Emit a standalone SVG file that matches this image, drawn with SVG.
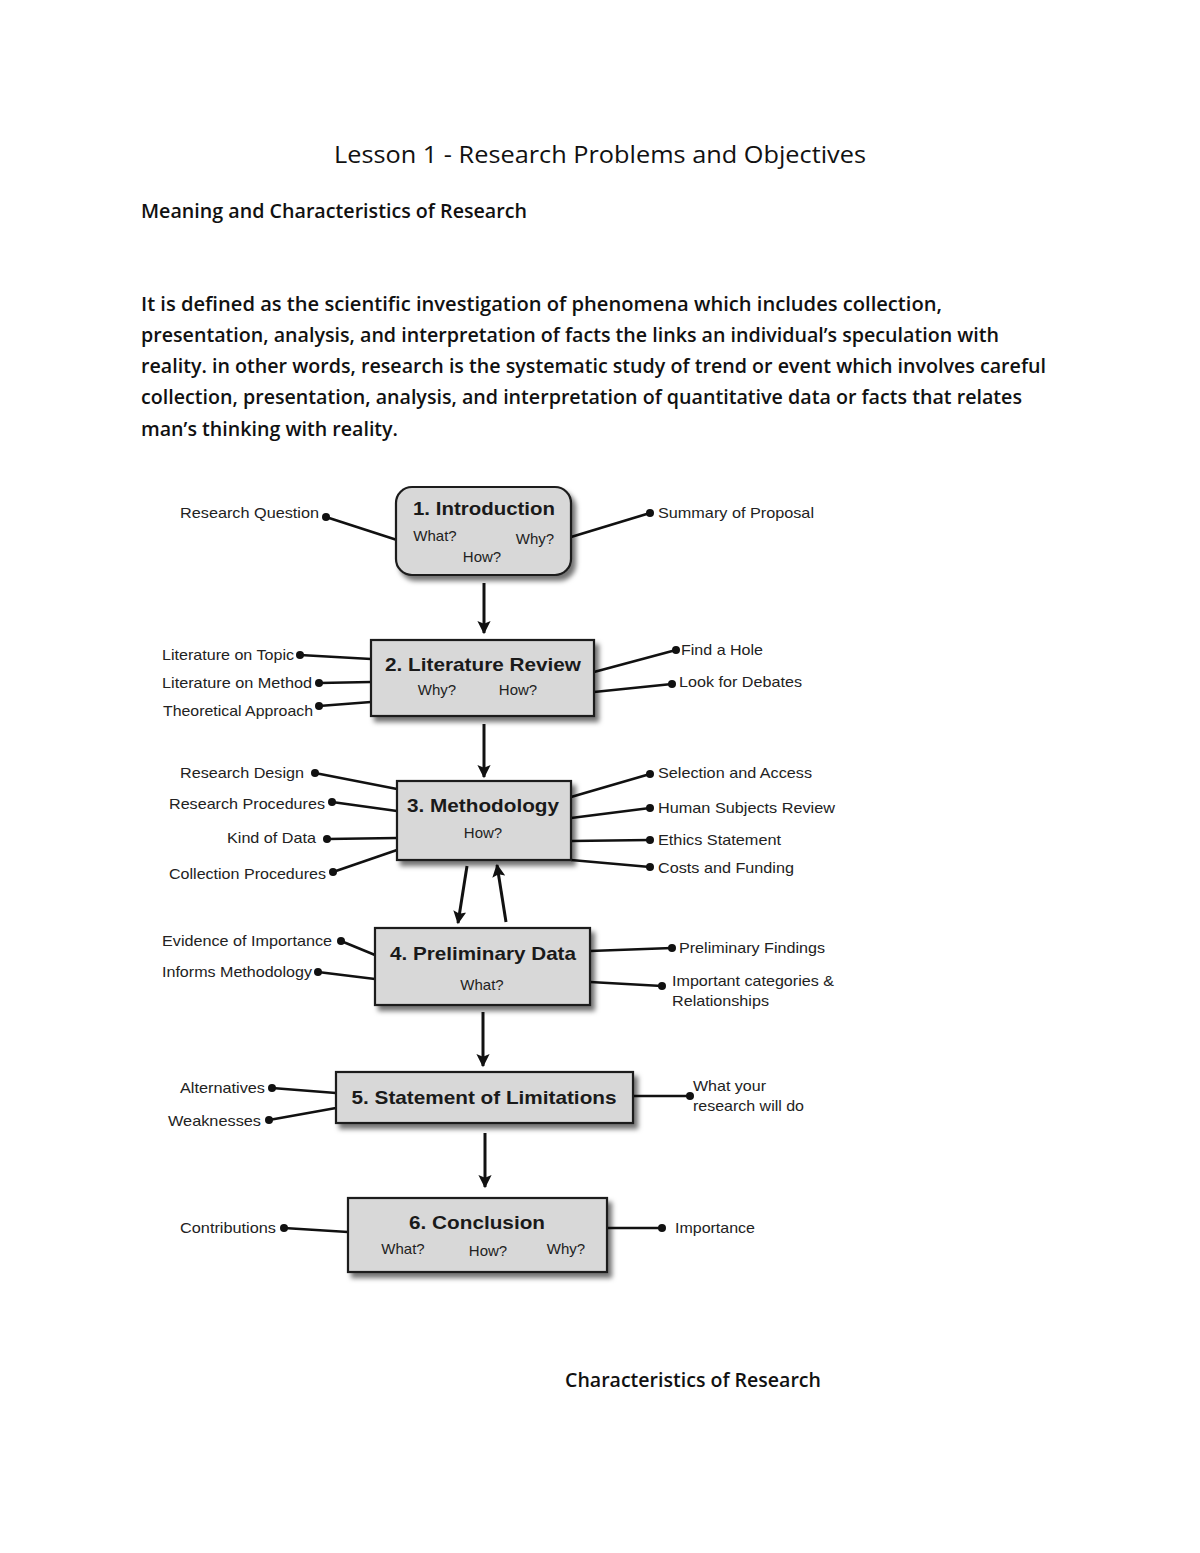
<svg xmlns="http://www.w3.org/2000/svg" width="1200" height="1553" viewBox="0 0 1200 1553">
<defs>
<marker id="ah" viewBox="0 0 10 10" refX="9" refY="5" markerWidth="4.8" markerHeight="4.4" orient="auto" markerUnits="strokeWidth">
<path d="M0,0 L10,5 L0,10 L2,5 z" fill="#111"/>
</marker>
<filter id="sh" x="-10%" y="-10%" width="130%" height="140%">
<feDropShadow dx="4" dy="5" stdDeviation="2.5" flood-color="#000" flood-opacity="0.55"/>
</filter>
</defs>
<style>
.doc{font-family:"Open Sans","Noto Sans","Liberation Sans",sans-serif;fill:#111;}
.box{fill:#d8d8d8;stroke:#1a1a1a;stroke-width:2.2;filter:url(#sh);}
.nt{font-family:"Liberation Sans",Arial,sans-serif;font-weight:bold;font-size:19px;fill:#1a1a1a;text-anchor:middle;}
.q{font-family:"Liberation Sans",Arial,sans-serif;font-size:15px;fill:#222;text-anchor:middle;}
.lb{font-family:"Liberation Sans",Arial,sans-serif;font-size:15px;fill:#222;}
.ln{stroke:#111;stroke-width:2.6;fill:none;}
.ar{stroke:#111;stroke-width:3;fill:none;marker-end:url(#ah);}
.dt{fill:#111;}
</style>
<rect width="1200" height="1553" fill="#fff"/>

<g id="page-text">
<text class="doc" x="334" y="163" font-size="23" textLength="532" lengthAdjust="spacingAndGlyphs">Lesson 1 - Research Problems and Objectives</text>
<text class="doc" x="141" y="218" font-size="20" font-weight="600" textLength="386" lengthAdjust="spacingAndGlyphs">Meaning and Characteristics of Research</text>
<text class="doc" x="141" y="311" font-size="20" font-weight="600" textLength="801" lengthAdjust="spacingAndGlyphs">It is defined as the scientific investigation of phenomena which includes collection,</text>
<text class="doc" x="141" y="342" font-size="20" font-weight="600" textLength="858" lengthAdjust="spacingAndGlyphs">presentation, analysis, and interpretation of facts the links an individual’s speculation with</text>
<text class="doc" x="141" y="373" font-size="20" font-weight="600" textLength="905" lengthAdjust="spacingAndGlyphs">reality. in other words, research is the systematic study of trend or event which involves careful</text>
<text class="doc" x="141" y="404" font-size="20" font-weight="600" textLength="881" lengthAdjust="spacingAndGlyphs">collection, presentation, analysis, and interpretation of quantitative data or facts that relates</text>
<text class="doc" x="141" y="436" font-size="20" font-weight="600" textLength="257" lengthAdjust="spacingAndGlyphs">man’s thinking with reality.</text>
<text class="doc" x="565" y="1387" font-size="20" font-weight="600" textLength="256" lengthAdjust="spacingAndGlyphs">Characteristics of Research</text>
</g>

<g id="connectors">
<line class="ar" x1="484" y1="583" x2="484" y2="633"/>
<line class="ar" x1="484" y1="724" x2="484" y2="777"/>
<line class="ar" x1="467" y1="866" x2="458" y2="923"/>
<line class="ar" x1="506" y1="922" x2="497" y2="865"/>
<line class="ar" x1="483" y1="1012" x2="483" y2="1066"/>
<line class="ar" x1="485" y1="1133" x2="485" y2="1187"/>

<g id="leaf-lines">
<line class="ln" x1="326" y1="517" x2="397" y2="540"/>
<line class="ln" x1="650" y1="513" x2="571" y2="537"/>

<line class="ln" x1="300" y1="655" x2="371" y2="659"/>
<line class="ln" x1="319" y1="683" x2="371" y2="682"/>
<line class="ln" x1="319" y1="706" x2="371" y2="702"/>
<line class="ln" x1="676" y1="650" x2="594" y2="672"/>
<line class="ln" x1="672" y1="684" x2="594" y2="692"/>

<line class="ln" x1="315" y1="773" x2="397" y2="789"/>
<line class="ln" x1="332" y1="802" x2="397" y2="811"/>
<line class="ln" x1="327" y1="839" x2="397" y2="838"/>
<line class="ln" x1="333" y1="872" x2="397" y2="850"/>
<line class="ln" x1="650" y1="774" x2="571" y2="797"/>
<line class="ln" x1="650" y1="808" x2="571" y2="818"/>
<line class="ln" x1="650" y1="840" x2="571" y2="841"/>
<line class="ln" x1="650" y1="867" x2="571" y2="860"/>

<line class="ln" x1="341" y1="941" x2="375" y2="955"/>
<line class="ln" x1="318" y1="972" x2="375" y2="979"/>
<line class="ln" x1="672" y1="948" x2="590" y2="951"/>
<line class="ln" x1="662" y1="986" x2="590" y2="982"/>

<line class="ln" x1="272" y1="1088" x2="336" y2="1093"/>
<line class="ln" x1="269" y1="1120" x2="336" y2="1108"/>
<line class="ln" x1="690" y1="1096" x2="633" y2="1096"/>

<line class="ln" x1="284" y1="1228" x2="348" y2="1232"/>
<line class="ln" x1="662" y1="1228" x2="607" y2="1228"/>
</g>
<g id="leaf-dots">
<circle class="dt" cx="326" cy="517" r="4"/>
<circle class="dt" cx="650" cy="513" r="4"/>
<circle class="dt" cx="300" cy="655" r="4"/>
<circle class="dt" cx="319" cy="683" r="4"/>
<circle class="dt" cx="319" cy="706" r="4"/>
<circle class="dt" cx="676" cy="650" r="4"/>
<circle class="dt" cx="672" cy="684" r="4"/>
<circle class="dt" cx="315" cy="773" r="4"/>
<circle class="dt" cx="332" cy="802" r="4"/>
<circle class="dt" cx="327" cy="839" r="4"/>
<circle class="dt" cx="333" cy="872" r="4"/>
<circle class="dt" cx="650" cy="774" r="4"/>
<circle class="dt" cx="650" cy="808" r="4"/>
<circle class="dt" cx="650" cy="840" r="4"/>
<circle class="dt" cx="650" cy="867" r="4"/>
<circle class="dt" cx="341" cy="941" r="4"/>
<circle class="dt" cx="318" cy="972" r="4"/>
<circle class="dt" cx="672" cy="948" r="4"/>
<circle class="dt" cx="662" cy="986" r="4"/>
<circle class="dt" cx="272" cy="1088" r="4"/>
<circle class="dt" cx="269" cy="1120" r="4"/>
<circle class="dt" cx="690" cy="1096" r="4"/>
<circle class="dt" cx="284" cy="1228" r="4"/>
<circle class="dt" cx="662" cy="1228" r="4"/>
</g>
</g>

<g id="node-introduction">
<rect class="box" x="396" y="487" width="175" height="88" rx="16"/>
<text class="nt" x="484" y="515" textLength="142" lengthAdjust="spacingAndGlyphs">1. Introduction</text>
<text class="q" x="435" y="541">What?</text>
<text class="q" x="535" y="544">Why?</text>
<text class="q" x="482" y="562">How?</text>
</g>
<g id="node-literature-review">
<rect class="box" x="371" y="640" width="223" height="76"/>
<text class="nt" x="483" y="671" textLength="196" lengthAdjust="spacingAndGlyphs">2. Literature Review</text>
<text class="q" x="437" y="695">Why?</text>
<text class="q" x="518" y="695">How?</text>
</g>
<g id="node-methodology">
<rect class="box" x="397" y="781" width="174" height="79"/>
<text class="nt" x="483" y="812" textLength="152" lengthAdjust="spacingAndGlyphs">3. Methodology</text>
<text class="q" x="483" y="838">How?</text>
</g>
<g id="node-preliminary-data">
<rect class="box" x="375" y="928" width="215" height="77"/>
<text class="nt" x="483" y="960" textLength="186" lengthAdjust="spacingAndGlyphs">4. Preliminary Data</text>
<text class="q" x="482" y="990">What?</text>
</g>
<g id="node-limitations">
<rect class="box" x="336" y="1072" width="297" height="51"/>
<text class="nt" x="484" y="1104" textLength="265" lengthAdjust="spacingAndGlyphs">5. Statement of Limitations</text>
</g>
<g id="node-conclusion">
<rect class="box" x="348" y="1198" width="259" height="74"/>
<text class="nt" x="477" y="1229" textLength="136" lengthAdjust="spacingAndGlyphs">6. Conclusion</text>
<text class="q" x="403" y="1254">What?</text>
<text class="q" x="488" y="1256">How?</text>
<text class="q" x="566" y="1254">Why?</text>
</g>

<g id="leaf-labels">
<text class="lb" x="319" y="518" text-anchor="end" textLength="139" lengthAdjust="spacingAndGlyphs">Research Question</text>
<text class="lb" x="658" y="518" textLength="156" lengthAdjust="spacingAndGlyphs">Summary of Proposal</text>

<text class="lb" x="294" y="660" text-anchor="end" textLength="132" lengthAdjust="spacingAndGlyphs">Literature on Topic</text>
<text class="lb" x="312" y="688" text-anchor="end" textLength="150" lengthAdjust="spacingAndGlyphs">Literature on Method</text>
<text class="lb" x="313" y="716" text-anchor="end" textLength="150" lengthAdjust="spacingAndGlyphs">Theoretical Approach</text>
<text class="lb" x="681" y="655" textLength="82" lengthAdjust="spacingAndGlyphs">Find a Hole</text>
<text class="lb" x="679" y="687" textLength="123" lengthAdjust="spacingAndGlyphs">Look for Debates</text>

<text class="lb" x="304" y="778" text-anchor="end" textLength="124" lengthAdjust="spacingAndGlyphs">Research Design</text>
<text class="lb" x="325" y="809" text-anchor="end" textLength="156" lengthAdjust="spacingAndGlyphs">Research Procedures</text>
<text class="lb" x="316" y="843" text-anchor="end" textLength="89" lengthAdjust="spacingAndGlyphs">Kind of Data</text>
<text class="lb" x="326" y="879" text-anchor="end" textLength="157" lengthAdjust="spacingAndGlyphs">Collection Procedures</text>
<text class="lb" x="658" y="778" textLength="154" lengthAdjust="spacingAndGlyphs">Selection and Access</text>
<text class="lb" x="658" y="813" textLength="177" lengthAdjust="spacingAndGlyphs">Human Subjects Review</text>
<text class="lb" x="658" y="845" textLength="123" lengthAdjust="spacingAndGlyphs">Ethics Statement</text>
<text class="lb" x="658" y="873" textLength="136" lengthAdjust="spacingAndGlyphs">Costs and Funding</text>

<text class="lb" x="332" y="946" text-anchor="end" textLength="170" lengthAdjust="spacingAndGlyphs">Evidence of Importance</text>
<text class="lb" x="312" y="977" text-anchor="end" textLength="150" lengthAdjust="spacingAndGlyphs">Informs Methodology</text>
<text class="lb" x="679" y="953" textLength="146" lengthAdjust="spacingAndGlyphs">Preliminary Findings</text>
<text class="lb" x="672" y="986" textLength="162" lengthAdjust="spacingAndGlyphs">Important categories &amp;</text>
<text class="lb" x="672" y="1006" textLength="97" lengthAdjust="spacingAndGlyphs">Relationships</text>

<text class="lb" x="265" y="1093" text-anchor="end" textLength="85" lengthAdjust="spacingAndGlyphs">Alternatives</text>
<text class="lb" x="261" y="1126" text-anchor="end" textLength="93" lengthAdjust="spacingAndGlyphs">Weaknesses</text>
<text class="lb" x="693" y="1091" textLength="73" lengthAdjust="spacingAndGlyphs">What your</text>
<text class="lb" x="693" y="1111" textLength="111" lengthAdjust="spacingAndGlyphs">research will do</text>

<text class="lb" x="276" y="1233" text-anchor="end" textLength="96" lengthAdjust="spacingAndGlyphs">Contributions</text>
<text class="lb" x="675" y="1233" textLength="80" lengthAdjust="spacingAndGlyphs">Importance</text>
</g>
</svg>
